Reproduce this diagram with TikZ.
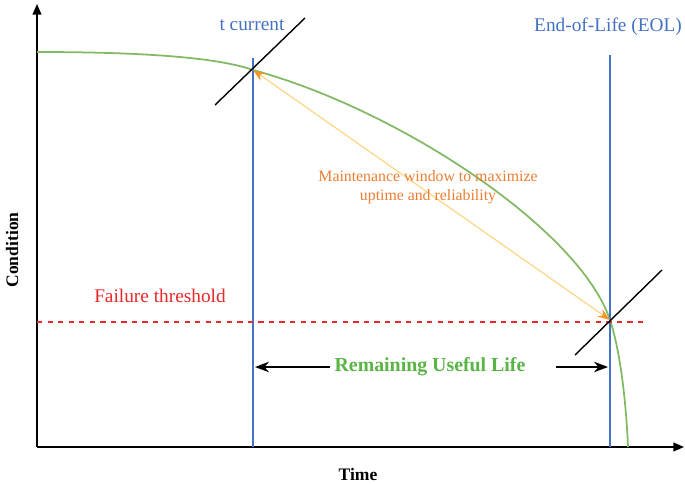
\documentclass[tikz,border=0pt]{standalone}
\usepackage{fontspec}
\setmainfont{Liberation Serif}
\usetikzlibrary{arrows.meta}
\definecolor{cblue}{RGB}{68,114,196}
\definecolor{cgreen}{RGB}{130,185,100}
\definecolor{tgreen}{RGB}{90,180,70}
\definecolor{corange}{RGB}{237,125,49}
\definecolor{cyell}{RGB}{250,210,120}
\definecolor{cred}{RGB}{230,40,40}
\begin{document}
\begin{tikzpicture}[x=0.02cm,y=-0.02cm,
  axis/.style={black,line width=0.8pt,-{Triangle[length=6pt,width=5pt]}},
  lbl/.style={inner sep=1pt,font=\fontsize{9}{11}\selectfont},
  big/.style={font=\fontsize{11}{13}\selectfont},
  vline/.style={cblue,line width=0.8pt}]
\useasboundingbox (0,0) rectangle (685,483);
\coordinate (O) at (37,447);
\coordinate (Ytop) at (37,4);
\coordinate (Xend) at (684,447);
\draw[axis] (O) -- (Ytop);
\draw[axis] (O) -- (Xend);
\node[lbl,font=\bfseries\fontsize{10}{12}\selectfont,rotate=90] (cond) at (12,250) {Condition};
\node[lbl,font=\bfseries\fontsize{10}{12}\selectfont] (time) at (358,474) {Time};
% curve
\coordinate (c0) at (37,52);
\coordinate (P1) at (253,70);
\coordinate (P2) at (610,320);
\coordinate (c3) at (628,447);
\draw[cgreen,line width=1pt] (c0) .. controls (180,52) and (230,62) .. (P1)
  .. controls (400,110) and (580,230) .. (P2)
  .. controls (620,350) and (626,400) .. (c3);
% verticals
\coordinate (v1t) at (253,58); \coordinate (v1b) at (253,447);
\coordinate (v2t) at (610,55); \coordinate (v2b) at (610,447);
\draw[vline] (v1t) -- (v1b);
\draw[vline] (v2t) -- (v2b);
% threshold
\coordinate (t0) at (37,322); \coordinate (t1) at (645,322);
\draw[cred,dashed,line width=0.6pt] (t0) -- (t1);
\node[lbl,big,text=cred] (ft) at (160,296) {Failure threshold};
% slashes
\coordinate (s1a) at (215,105); \coordinate (s1b) at (305,18);
\coordinate (s2a) at (575,355); \coordinate (s2b) at (662,270);
\draw[black,line width=0.8pt] (s1a) -- (s1b);
\draw[black,line width=0.8pt] (s2a) -- (s2b);
% maintenance arrow
\draw[cyell,line width=0.6pt,{Stealth[length=7pt,width=5pt,color=corange!80!yellow]}-{Stealth[length=7pt,width=5pt,color=corange!80!yellow]}] (P1) -- (P2);
\node[lbl,text=corange,align=center] (mw) at (428,187) {Maintenance window to maximize\\uptime and reliability};
% labels
\node[lbl,big,text=cblue] (tc) at (252,25) {t current};
\node[lbl,big,text=cblue] (eol) at (608,27) {End-of-Life (EOL)};
% RUL
\node[lbl,font=\bfseries\fontsize{11.3}{13}\selectfont,text=tgreen] (rul) at (430,367) {Remaining Useful Life};
\coordinate (ra) at (330,367); \coordinate (rb) at (556,367);
\coordinate (la) at (255,367); \coordinate (lb) at (608,367);
\draw[black,line width=0.8pt,-{Stealth[length=8pt,width=6pt]}] (ra) -- (la);
\draw[black,line width=0.8pt,-{Stealth[length=8pt,width=6pt]}] (rb) -- (lb);
\end{tikzpicture}
\end{document}
